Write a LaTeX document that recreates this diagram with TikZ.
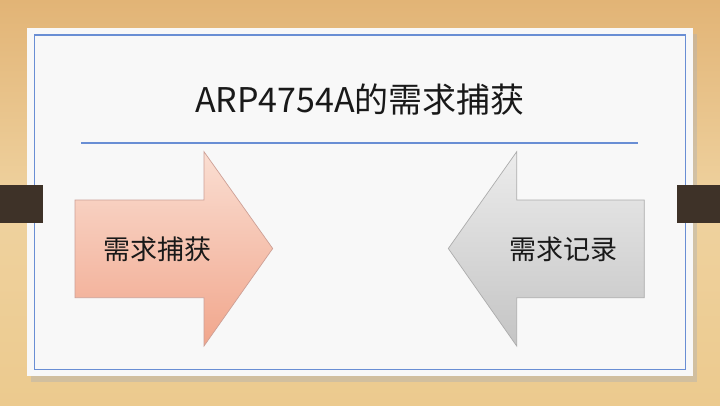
\documentclass[tikz,border=0pt]{standalone}
\usepackage{fontspec}
\setmainfont{Noto Sans CJK SC}
\definecolor{woodA}{RGB}{236,202,142}
\definecolor{woodB}{RGB}{226,180,118}
\definecolor{tabc}{RGB}{62,50,40}
\definecolor{cardc}{RGB}{248,248,248}
\definecolor{bluec}{RGB}{105,142,212}
\definecolor{salA}{RGB}{250,222,210}
\definecolor{salB}{RGB}{241,166,140}
\definecolor{salD}{RGB}{205,160,150}
\definecolor{grA}{RGB}{236,236,236}
\definecolor{grB}{RGB}{196,196,196}
\definecolor{grD}{RGB}{172,172,172}
\tikzset{
  x=1pt,y=-1pt,
  lbl/.style={font=\fontsize{27}{31}\selectfont,text=black!90,inner sep=0pt},
}
\begin{document}
\begin{tikzpicture}
\useasboundingbox (0,0) rectangle (720,405);
% wood background
\shade[top color=woodB,bottom color=woodA,middle color=woodA!85!white] (0,0) rectangle (720,405);
% card shadow
\fill[black!30,opacity=0.45] (31,34) rectangle (697,382);
% card
\fill[cardc] (27,28) rectangle (693,376);
\draw[bluec,line width=1.3pt] (34.5,35) rectangle (685.7,369.3);
% tabs
\fill[tabc] (0,185) rectangle (43,222.5);
\fill[tabc] (677,185) rectangle (720,222.5);
% title
\node[font=\fontsize{34}{39}\selectfont,text=black!90,inner sep=0pt] (title) at (360,100) {ARP4754A的需求捕获};
\draw[bluec,line width=1.4pt] (81,143) -- (638,143);
% left arrow
\draw[salD,line width=0.7pt,top color=salA,bottom color=salB]
  (75,200) -- (204,200) -- (204,151.7) -- (272.7,248.5) -- (204,346) -- (204,297.7) -- (75,297.7) -- cycle;
\node[lbl] (l) at (157,249) {需求捕获};
% right arrow
\draw[grD,line width=0.7pt,top color=grA,bottom color=grB]
  (644.3,200) -- (516.7,200) -- (516.7,151.7) -- (448.3,248.5) -- (516.7,346) -- (516.7,297.7) -- (644.3,297.7) -- cycle;
\node[lbl] (r) at (563.7,249) {需求记录};
\end{tikzpicture}
\end{document}
